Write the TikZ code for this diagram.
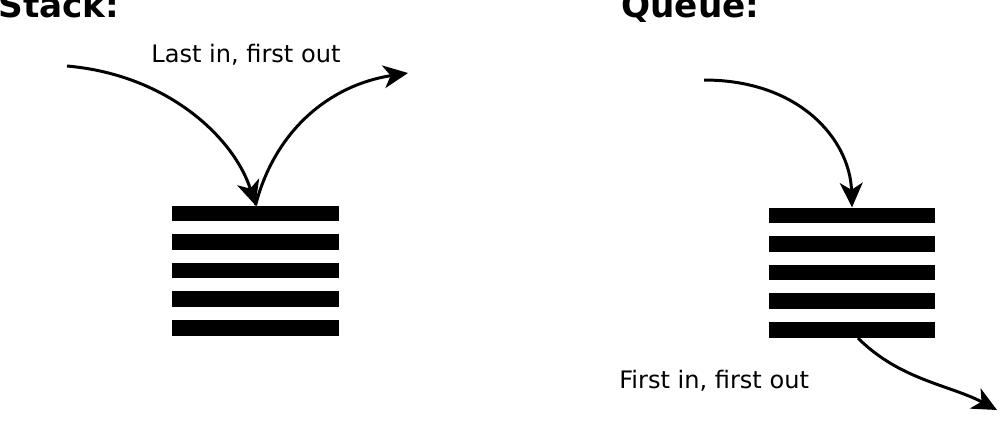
\documentclass[tikz,border=0pt]{standalone}
\usepackage{fontspec}
\setmainfont{DejaVu Sans}
\usetikzlibrary{arrows.meta}
\begin{document}
\begin{tikzpicture}[x=0.02cm,y=-0.02cm,
  bar/.style={fill=black,draw=none,minimum width=3.34cm,minimum height=0.31cm,inner sep=0},
  arr/.style={line width=1.7pt,-{Stealth[length=14pt,width=13pt,inset=4pt]}},
  lbl/.style={anchor=west,inner sep=0,font=\fontsize{13.7}{15}\selectfont},
  ttl/.style={anchor=west,inner sep=0,font=\bfseries\fontsize{19.5}{22}\selectfont}]
\useasboundingbox (0,0) rectangle (1000,420);
\foreach \i/\y in {1/213.5,2/242,3/270.5,4/299,5/328}{
  \node[bar] (s\i) at (255.5,\y) {};
  \node[bar] (q\i) at (852,\y+2) {};
}
\node[ttl] (st) at (-2,5) {Stack:};
\node[ttl] (qt) at (621,7) {Queue:};
\node[lbl] (l1) at (151,55) {Last in, first out};
\node[lbl] (l2) at (619,381) {First in, first out};
\coordinate (a) at (67,66);
\coordinate (b) at (408,73);
\coordinate (c) at (704,80);
\coordinate (d) at (997,410);
\draw[arr] (a) .. controls (170,75) and (235,140) .. (s1.north);
\draw[arr] (s1.north) .. controls (275,130) and (330,85) .. (b);
\draw[arr] (c) .. controls (800,80) and (850,140) .. (q1.north);
\draw[arr] ([xshift=0.12cm]q5.south) .. controls (900,380) and (950,385) .. (d);
\end{tikzpicture}
\end{document}
